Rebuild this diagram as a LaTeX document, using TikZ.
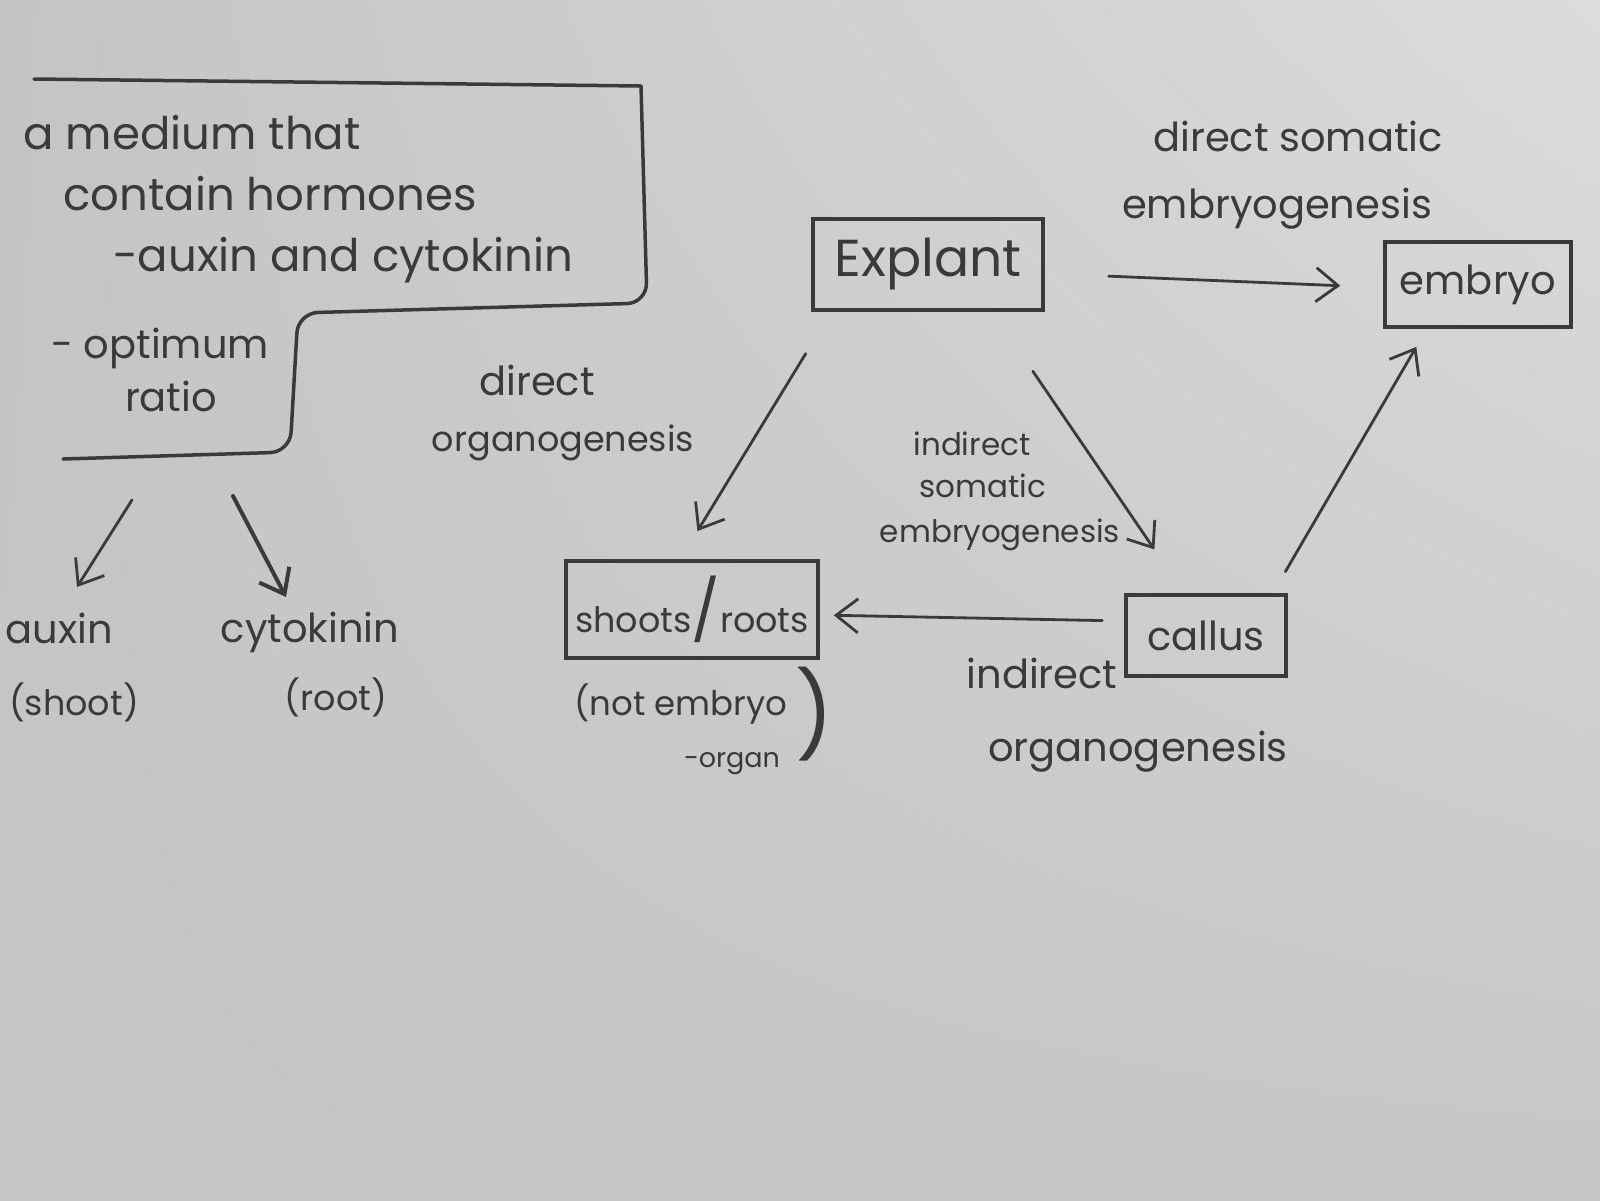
\documentclass[tikz,border=0pt]{standalone}
\usepackage{fontspec}
\setmainfont{Poppins}
\usetikzlibrary{arrows.meta,shadings}
\definecolor{pencil}{RGB}{58,58,58}
\definecolor{paperUL}{RGB}{196,196,196}
\definecolor{paperUR}{RGB}{220,220,220}
\definecolor{paperLL}{RGB}{197,197,197}
\definecolor{paperLR}{RGB}{198,198,198}
\begin{document}
\begin{tikzpicture}[x=1pt,y=-1pt,
  hand/.style={text=pencil, inner sep=0pt, font=\fontsize{40}{48}\selectfont},
  midhand/.style={hand, font=\fontsize{35}{42}\selectfont},
  smallhand/.style={hand, font=\fontsize{31}{38}\selectfont},
  bighand/.style={hand, font=\fontsize{45}{54}\selectfont},
  stage/.style={draw=pencil, line width=3.5pt, text=pencil, inner sep=0pt, font=\fontsize{40}{48}\selectfont},
  pline/.style={draw=pencil, line width=3.5pt, line cap=round, line join=round},
  arr/.style={draw=pencil, line width=2.8pt, line cap=round, -{Straight Barb[length=22pt,width=34pt]}}
]
\useasboundingbox (0,0) rectangle (1600,1200);
\shade[upper left=paperUL, upper right=paperUR, lower left=paperLL, lower right=paperLR] (0,0) rectangle (1600,1200);

% medium box outline
\draw[pline] (34,79) -- (641,86) {[rounded corners=20pt] -- (647,303) -- (298,313) -- (290,452)} -- (63,459);

% medium texts
\node[bighand] (med1) at (192,133) {a medium that};
\node[bighand] (med2) at (270,194) {contain hormones};
\node[bighand] (med3) at (343,260) {-auxin and cytokinin};
\node[hand] (med4) at (160,348) {- optimum};
\node[hand] (med5) at (171,396) {ratio};

% hormone branches
\node[hand] (auxin) at (59,628) {auxin};
\node[midhand] (shoot) at (74,702) {(shoot)};
\node[hand] (cyto) at (310,632) {cytokinin};
\node[midhand] (root) at (336,697) {(root)};
\coordinate (m1) at (132,500);
\coordinate (m2) at (233,496);
\draw[arr] (m1) -- ([xshift=18pt,yshift=41pt]auxin.center);
\draw[arr, line width=4pt] (m2) -- ([xshift=-24pt,yshift=35pt]cyto.center);

% stages
\node[stage, minimum width=230pt, minimum height=91pt, font=\fontsize{52}{60}\selectfont] (explant) at (928,264.5) {Explant};
\node[stage, minimum width=186pt, minimum height=85pt] (embryo) at (1478,284.5) {embryo};
\node[stage, minimum width=252pt, minimum height=97pt, font=\fontsize{35}{42}\selectfont] (shoots) at (692,609.5) {shoots{\fontsize{60}{60}\selectfont/}roots};
\node[stage, minimum width=160pt, minimum height=81pt] (callus) at (1206,635.5) {callus};

% labels
\node[hand] (do1) at (537,380) {direct};
\node[midhand] (do2) at (563,443) {organogenesis};
\node[hand] (dse1) at (1298,136) {direct somatic};
\node[hand] (dse2) at (1277,209) {embryogenesis};
\node[smallhand] (ise1) at (972,444) {indirect};
\node[smallhand] (ise2) at (983,486) {somatic};
\node[smallhand] (ise3) at (1000,535) {embryogenesis};
\node[hand] (io1) at (1042,673) {indirect};
\node[hand] (io2) at (1138,752) {organogenesis};
\node[hand, font=\fontsize{34}{40}\selectfont] (notemb) at (681,704) {(not embryo};
\node[hand, font=\fontsize{84}{84}\selectfont] (rparen) at (815,714) {)};
\node[hand, font=\fontsize{27}{32}\selectfont] (organ) at (732,764) {-organ};

% connectors
\draw[arr, shorten <=49pt, shorten >=33pt] ([xshift=20pt]explant.south west) -- ([xshift=116pt]shoots.north west);
\draw[arr, shorten <=72pt, shorten >=53pt] ([xshift=-52.5pt]explant.south east) -- ([xshift=60pt]callus.north west);
\draw[arr, shorten <=25pt, shorten >=21pt] ([xshift=-15pt]callus.north east) -- ([xshift=43.6pt]embryo.south west);
\draw[arr, shorten <=64pt, shorten >=43pt] ([yshift=-9pt]explant.east) -- ([yshift=-3pt]embryo.west);
\draw[arr, shorten <=22pt, shorten >=14pt] ([yshift=14.5pt]callus.west) -- ([yshift=-5.5pt]shoots.east);
\end{tikzpicture}
\end{document}
